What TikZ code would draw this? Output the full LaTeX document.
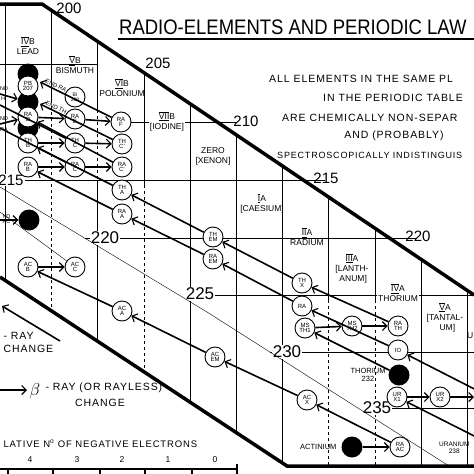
\documentclass[tikz,border=0pt]{standalone}
\usepackage{fontspec}
\setmainfont{Liberation Sans}
\newfontfamily\titlefont{Liberation Sans}[FakeStretch=0.88]
\newfontfamily\spaced{Liberation Sans}[LetterSpace=9]
\usetikzlibrary{arrows.meta}
\newcommand\rn[1]{$\overline{\underline{\mbox{#1}}}$}
\tikzset{
  el/.style={draw,circle,fill=white,line width=0.9pt,minimum size=20pt,inner sep=0pt,
    align=center,font=\fontsize{6}{5.5}\selectfont},
  blk/.style={circle,fill=black,minimum size=21pt,inner sep=0pt},
  alph/.style={line width=1.6pt,-{Straight Barb[length=4.5pt,width=9pt,line width=1.1pt]}},
  beta/.style={line width=1.6pt,-{Straight Barb[length=4.5pt,width=9pt,line width=1.1pt]}},
  grp/.style={font=\fontsize{8.5}{10}\selectfont,align=center,inner sep=1pt},
  mass/.style={font=\fontsize{17}{17}\selectfont,fill=white,inner sep=1pt},
  dmass/.style={font=\fontsize{15}{15}\selectfont,inner sep=1pt},
  note/.style={font=\spaced\fontsize{10.5}{11}\selectfont,inner sep=0pt},
  endtxt/.style={sloped,above,inner sep=1pt,font=\fontsize{6}{6}\selectfont},
  edge/.style={inner sep=0pt,font=\fontsize{5.5}{5.5}\selectfont,anchor=west},
  grid/.style={line width=0.9pt}
}
\begin{document}
\begin{tikzpicture}[x=1pt,y=-1pt]
\useasboundingbox (0,0) rectangle (474,474);
\clip (0,0) rectangle (474,474);

% boundaries
\draw[line width=3.5pt] (0,4) -- (42,4) -- (474,295);
\draw[line width=3.5pt] (0,277) -- (287,466) -- (474,466);

% columns
\draw[grid] (5,4) -- (5,280);
\draw[grid] (51,10) -- (51,100);
\draw[grid,dashed] (51,100) -- (51,311);
\draw[grid] (97,41) -- (97,110);
\draw[grid,dashed] (97,110) -- (97,180);
\draw[grid] (97,180) -- (97,342);
\draw[grid] (144,73) -- (144,185);
\draw[grid,dashed] (144,185) -- (144,373);
\draw[grid] (190,104) -- (190,403);
\draw[grid] (236,135) -- (236,434);
\draw[grid] (282,166) -- (282,465);
\draw[grid] (328,196) -- (328,300);
\draw[grid,dashed] (328,300) -- (328,466);
\draw[grid] (375,228) -- (375,300);
\draw[grid,dashed] (375,300) -- (375,466);
\draw[grid] (421,259) -- (421,466);
\draw[grid] (467,290) -- (467,466);

% rows
\draw[grid] (0,64) -- (97,64);
\draw[grid] (130,122) -- (237,122);
\draw[grid] (20,180) -- (325,180);
\draw[grid] (85,238) -- (417,238);
\draw[grid] (185,295) -- (474,295);
\draw[grid] (270,352) -- (474,352);
\draw[grid] (367,408) -- (474,408);
\node[mass,font=\fontsize{15}{15}\selectfont] (m215) at (11,180) {215};
\node[mass] (m220) at (105,238) {220};
\node[mass] (m225) at (200,294) {225};
\node[mass] (m230) at (287,352) {230};
\node[mass] (m235) at (377,408) {235};
\node[dmass] (d200) at (69,8) {200};
\node[dmass] (d205) at (158,63) {205};
\node[dmass] (d210) at (246,121) {210};
\node[dmass] (d215) at (326,178) {215};
\node[dmass] (d220) at (418,236) {220};

% thin diagonals
\draw[thin] (0,187) -- (207,312) -- (449,466);

% title and note
\node[font=\titlefont\fontsize{21}{21}\selectfont,anchor=west,inner sep=0pt] (title) at (119,27) {RADIO-ELEMENTS AND PERIODIC LAW};
\draw[line width=2.8pt] (118,39) -- (474,39);
\node[note,anchor=west] (n1) at (269,79) {ALL ELEMENTS IN THE SAME PL};
\node[note] (n2) at (393,98) {IN THE PERIODIC TABLE};
\node[note,anchor=west] (n3) at (282,118) {ARE CHEMICALLY NON-SEPAR};
\node[note] (n4) at (394,136) {AND (PROBABLY)};
\node[note,anchor=west,font=\spaced\fontsize{9}{10}\selectfont] (n5) at (277,155) {SPECTROSCOPICALLY INDISTINGUIS};

% groups
\node[grp] (lead) at (28,46) {\rn{IV}B\\LEAD};
\node[grp] (bism) at (75,65) {\rn{V}B\\BISMUTH};
\node[grp] (polo) at (122,88) {\rn{VI}B\\POLONIUM};
\node[grp,fill=white] (iodi) at (167,121) {\rn{VII}B\\{[}IODINE{]}};
\node[grp] (xeno) at (213,156) {ZERO\\{[}XENON{]}};
\node[grp] (caes) at (262,203) {\rn{I}A\\{[}CAESIUM{]}};
\node[grp] (radi) at (307,237) {\rn{II}A\\RADIUM};
\node[grp] (lant) at (352,268) {\rn{III}A\\{[}LANTH-\\\ ANUM{]}};
\node[grp,fill=white] (thor) at (398,293) {\rn{IV}A\\THORIUM};
\node[grp] (tant) at (445,317) {\rn{V}A\\{[}TANTAL-\\\ \ UM{]}};
\node[grp,anchor=west] (uran) at (466,336) {U};

% lead column
\node[blk] (rag) at (28,74) {};
\node[blk] (thd) at (28,102) {};
\node[blk] (acd) at (28,128) {};
\node[el] (pb) at (28,86) {PB\\207};
\node[el] (rad) at (28,117) {RA\\D};
\node[el] (thb) at (28,143) {TH\\B};
\node[el] (rab) at (28,167) {RA\\B};
\node[blk] (acend) at (29,220) {};
\node[el] (acb) at (28,267) {AC\\B};

% bismuth column
\node[el,font=\fontsize{5}{5}\selectfont] (bi) at (75,97) {BI\\208};
\node[el] (rae) at (75,119) {RA\\E};
\node[el] (thc) at (75,143) {TH\\C};
\node[el] (rac) at (75,167) {RA\\C};
\node[el] (acc) at (75,267) {AC\\C};

% polonium column
\node[el] (raf) at (121,122) {RA\\F};
\node[el] (thcc) at (122,144) {TH\\C'};
\node[el] (racc) at (122,167) {RA\\C'};
\node[el] (tha) at (122,190) {TH\\A};
\node[el] (raa) at (122,214) {RA\\A};
\node[el] (aca) at (122,311) {AC\\A};

% emanations
\node[el] (them) at (213,237) {TH\\EM};
\node[el] (raem) at (213,259) {RA\\EM};
\node[el] (acem) at (215,357) {AC\\EM};

% radium column
\node[el] (thx) at (302,283) {TH\\X};
\node[el] (ra) at (302,306) {RA};
\node[el] (msa) at (305,328) {MS\\TH1};
\node[el] (acx) at (307,400) {AC\\X};

% IIIA
\node[el] (msb) at (352,326) {MS\\TH2};
\node[blk] (actin) at (352,447) {};
\node[font=\fontsize{7.5}{7.5}\selectfont,anchor=east] (actxt) at (340,447) {ACTINIUM};

% thorium column
\node[el] (rath) at (398,326) {RA\\TH};
\node[el] (io) at (398,350) {IO};
\node[blk] (thorium) at (399,375) {};
\node[font=\fontsize{7.5}{7.5}\selectfont,align=center] (thtxt) at (368,375) {THORIUM\\232};
\node[el] (urxa) at (397,397) {UR\\X1};
\node[el] (raac) at (400,447) {RA\\AC};
\node[el] (urxb) at (440,397) {UR\\X2};
\node[font=\fontsize{6.5}{7}\selectfont,align=center,anchor=east] (urtxt) at (473,448) {URANIUM\\238};
\coordinate (urii) at (490,397);
\coordinate (uran1) at (490,444);
\coordinate (urout) at (474,397);

% alpha changes
\coordinate (raend) at (40,82);
\coordinate (thend) at (40,104);
\draw[alph] (raf) -- (raend) node[endtxt,pos=0.8] {END RA};
\draw[alph] (thcc) -- (thend) node[endtxt,pos=0.8] {END TH};
\draw[alph] (racc) -- (rad);
\draw[alph] (tha) -- (thb);
\draw[alph] (raa) -- (rab);
\draw[alph] (them) -- (tha);
\draw[alph] (raem) -- (raa);
\draw[alph] (thx) -- (them);
\draw[alph] (ra) -- (raem);
\draw[alph] (rath) -- (thx);
\draw[alph] (io) -- (ra);
\draw[alph] (thorium) -- (msa);
\draw[alph] (urii) -- (io);
\draw[alph] (uran1) -- (urxa);
\draw[alph] (raac) -- (acx);
\draw[alph] (acx) -- (acem);
\draw[alph] (acem) -- (aca);
\draw[alph] (aca) -- (acb);
\draw[line width=1.6pt] (thc) -- (0,105);
\draw[line width=1.6pt] (rac) -- (0,128);
\draw[thin] (acc) -- (0,212);

% beta changes
\draw[beta] (rab) -- (rac);
\draw[beta] (rac) -- (racc);
\draw[beta] (thb) -- (thc);
\draw[beta] (thc) -- (thcc);
\draw[beta] (rad) -- (rae);
\draw[beta] (rae) -- (raf);
\draw[beta] (acb) -- (acc);
\draw[beta] (msa) -- (msb);
\draw[beta] (msb) -- (rath);
\draw[beta] (urxa) -- (urxb);
\draw[beta] (urxb) -- (urout);
\draw[beta] (actin) -- (raac);
\coordinate (acleft) at (0,220);
\draw[beta] (acleft) -- (acend);
\node[font=\fontsize{5.5}{5.5}\selectfont,align=center,anchor=east] (acendtxt) at (14,219) {ND\\AC};
\coordinate (thleft) at (0,94);
\draw[beta] (thleft) -- (thd);
\node[edge] (thnd) at (0,89) {ND};
\node[edge] (thh) at (1,99) {H};
\coordinate (raleft) at (0,124);
\draw[beta] (raleft) -- (rad);
\node[edge] (rand) at (0,119) {ND};
\node[edge] (rara) at (0,130) {RA};

% legend
\coordinate (alegr) at (60,341);
\coordinate (alegl) at (2,306);
\draw[alph] (alegr) -- (alegl);
\node[font=\spaced\fontsize{10.5}{13}\selectfont,align=left,anchor=west] (aleg) at (0,342) {- RAY\\CHANGE};
\coordinate (blegl) at (0,390);
\coordinate (blegr) at (27,390);
\draw[beta] (blegl) -- (blegr);
\node[font=\fontsize{19}{19}\selectfont] (bsym) at (35,391) {$\beta$};
\node[font=\spaced\fontsize{10.5}{11}\selectfont,anchor=west] (bleg) at (42,388) {- RAY (OR RAYLESS)};
\node[font=\spaced\fontsize{10.5}{11}\selectfont] (bleg2) at (100,403) {CHANGE};

% electron scale
\node[font=\spaced\fontsize{9.5}{9.5}\selectfont,anchor=west] (escale) at (0,444) {LATIVE N\textsuperscript{o} OF NEGATIVE ELECTRONS};
\draw[line width=1.2pt] (0,469) -- (238,469);
\draw[line width=1.2pt] (8,469) -- (8,474);
\draw[line width=1.2pt] (53,469) -- (53,474);
\draw[line width=1.2pt] (100,469) -- (100,474);
\draw[line width=1.2pt] (145,469) -- (145,474);
\draw[line width=1.2pt] (192,469) -- (192,474);
\draw[line width=1.2pt] (237,464) -- (237,474);
\node[font=\fontsize{8.5}{8.5}\selectfont] (e4) at (30,460) {4};
\node[font=\fontsize{8.5}{8.5}\selectfont] (e3) at (77,460) {3};
\node[font=\fontsize{8.5}{8.5}\selectfont] (e2) at (122,460) {2};
\node[font=\fontsize{8.5}{8.5}\selectfont] (e1) at (168,460) {1};
\node[font=\fontsize{8.5}{8.5}\selectfont] (e0) at (215,460) {0};
\end{tikzpicture}
\end{document}
